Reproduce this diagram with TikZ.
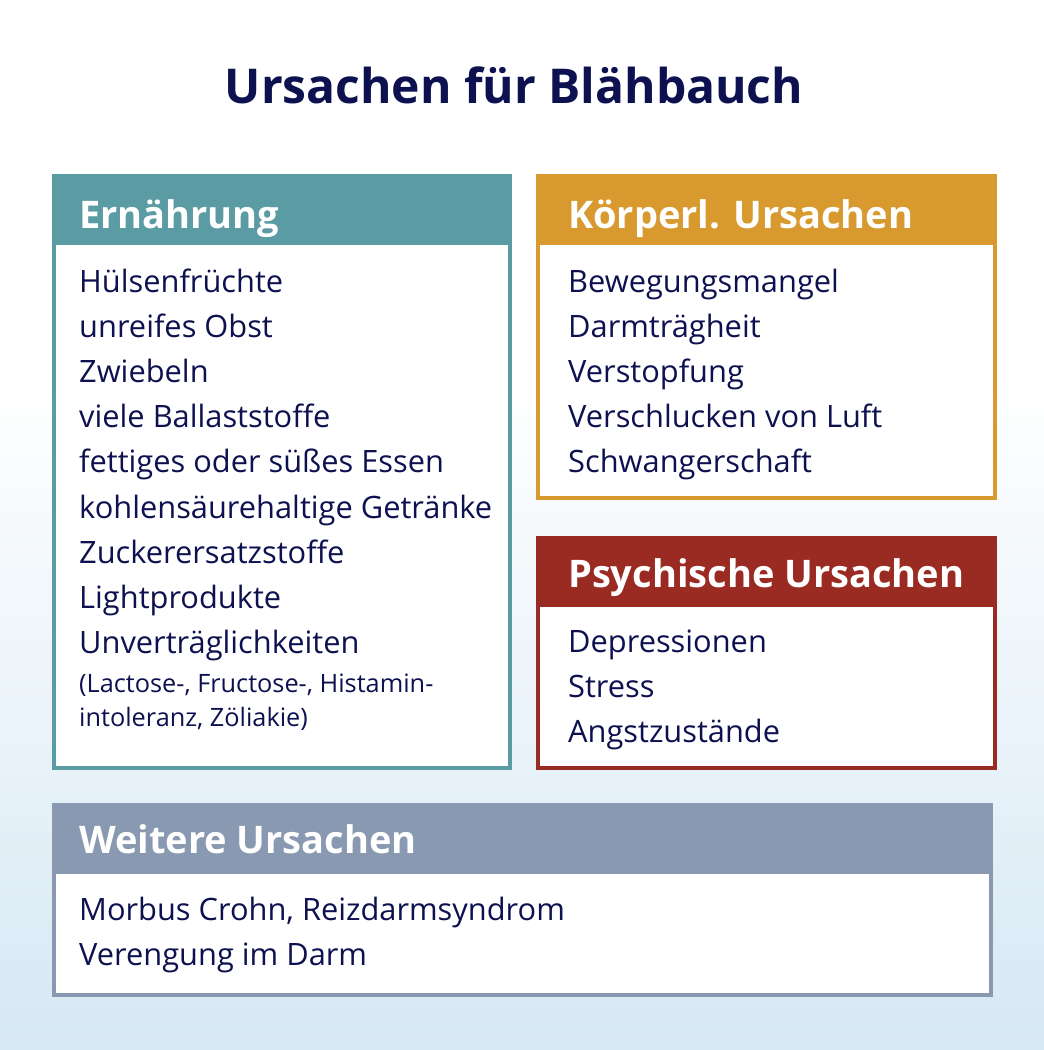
\documentclass[tikz,border=0pt]{standalone}
\usepackage{fontspec}
\setmainfont{Open Sans}
\usepackage{xcolor}
\usetikzlibrary{positioning}
\definecolor{navy}{HTML}{0D1150}
\definecolor{teal}{HTML}{5A9BA4}
\definecolor{ochre}{HTML}{D89A2E}
\definecolor{rust}{HTML}{9A2B22}
\definecolor{slate}{HTML}{8899B1}
\definecolor{bgblue}{HTML}{D6E8F4}

\begin{document}
\begin{tikzpicture}[
  x=1pt,y=-1pt,
  frame/.style={line width=4pt,fill=white},
  headtext/.style={anchor=base west,inner sep=0pt,text=white,
    font=\bfseries\fontsize{38}{44}\selectfont},
  itemtext/.style={anchor=base west,inner sep=0pt,text=navy,
    font=\fontsize{30.8}{36}\selectfont},
  smalltext/.style={anchor=base west,inner sep=0pt,text=navy,
    font=\fontsize{25.3}{30}\selectfont}
]
% background
\fill[white] (0,0) rectangle (1044,380);
\shade[top color=white,bottom color=bgblue] (0,380) rectangle (1044,1050);
\useasboundingbox (0,0) rectangle (1044,1050);

\node[anchor=base,inner sep=0pt,text=navy,
  font=\bfseries\fontsize{48}{56}\selectfont] (title) at (514,103)
  {Ursachen für Blähbauch};

% Ernaehrung
\draw[frame,draw=teal] (54,176) rectangle (510,768);
\fill[teal] (52,174) rectangle (512,245);
\node[headtext] (ernhead) at (79,228) {Ernährung};
\foreach \txt [count=\i] in {Hülsenfrüchte,unreifes Obst,Zwiebeln,
  viele Ballaststoffe,fettiges oder süßes Essen,
  kohlensäurehaltige Getränke,Zuckerersatzstoffe,Lightprodukte,
  Unverträglichkeiten}
  \node[itemtext] (ern\i) at (79,{292+45.2*(\i-1)}) {\txt};
\node[smalltext] (ern10) at (79,692) {(Lactose-, Fructose-, Histamin-};
\node[smalltext] (ern11) at (79,726) {intoleranz, Zöliakie)};

% Koerperliche Ursachen
\draw[frame,draw=ochre] (538,176) rectangle (995,498);
\fill[ochre] (536,174) rectangle (997,245);
\node[headtext] (koehead) at (568,228) {Körperl. Ursachen};
\foreach \txt [count=\i] in {Bewegungsmangel,Darmträgheit,Verstopfung,
  Verschlucken von Luft,Schwangerschaft}
  \node[itemtext] (koe\i) at (568,{292+45.2*(\i-1)}) {\txt};

% Psychische Ursachen
\draw[frame,draw=rust] (538,538) rectangle (995,768);
\fill[rust] (536,536) rectangle (997,607);
\node[headtext] (psyhead) at (568,587) {Psychische Ursachen};
\foreach \txt [count=\i] in {Depressionen,Stress,Angstzustände}
  \node[itemtext] (psy\i) at (568,{652+45.2*(\i-1)}) {\txt};

% Weitere Ursachen
\draw[frame,draw=slate] (54,805) rectangle (991,995);
\fill[slate] (52,803) rectangle (993,874);
\node[headtext] (weihead) at (79,853) {Weitere Ursachen};
\node[itemtext] (wei1) at (79,920) {Morbus Crohn, Reizdarmsyndrom};
\node[itemtext] (wei2) at (79,965) {Verengung im Darm};
\end{tikzpicture}
\end{document}
